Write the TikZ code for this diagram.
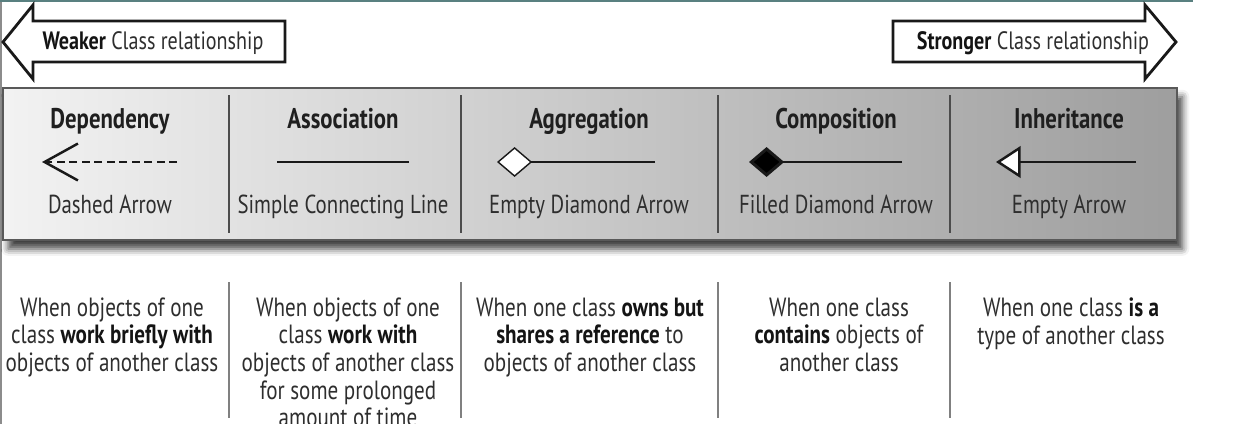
\documentclass[tikz,border=0pt]{standalone}
\usepackage{fontspec}
\setmainfont[FakeStretch=0.8]{PT Sans}
\usepackage{tikz}
\usetikzlibrary{positioning, calc, arrows.meta, shadows.blur}

\newcommand{\boldpart}[1]{\textcolor{black!92}{\textbf{#1}}}

\begin{document}
\begin{tikzpicture}[x=0.02cm, y=-0.02cm, thick]
        % Define block styles
        \tikzstyle{big_arrow} = [draw=black!90, line width=1.6pt, fill=white, line join=miter]
        \tikzstyle{arrow_text} = [anchor=base, inner sep=0pt, text=black!82, font=\fontsize{14.3}{17}\selectfont]
        \tikzstyle{kind_title} = [anchor=base, inner sep=0pt, text=black!88, font=\fontsize{16.2}{19}\selectfont\bfseries]
        \tikzstyle{kind_caption} = [anchor=base, inner sep=0pt, text=black!82, font=\fontsize{14.8}{17}\selectfont]
        \tikzstyle{usage} = [anchor=north, inner sep=0pt, align=center, text=black!82, font=\fontsize{15}{15.7}\selectfont]
        \tikzstyle{sample} = [draw=black!90, line width=1.7pt]

        % Frame of the screenshot
        \useasboundingbox (0,0) rectangle (1238,440);
        \clip (0,0) rectangle (1238,423);
        \draw[black!45, line width=1pt] (1,0) -- (1,440);
        \draw[gray!70!teal, line width=1.2pt] (0,1) -- (1193,1);

        % Weaker and stronger arrows
        \draw[big_arrow] (3,42) -- (33,5) -- (33,21) -- (285,21) -- (285,62) -- (33,62) -- (33,79) -- cycle;
        \draw[big_arrow] (893,21) -- (1145,21) -- (1145,5) -- (1176,42) -- (1145,79) -- (1145,62) -- (893,62) -- cycle;
        \node[arrow_text] (weaker) at (153,49) {\boldpart{Weaker} Class relationship};
        \node[arrow_text] (stronger) at (1033,49) {\boldpart{Stronger} Class relationship};

        % Panel with the five kinds
        \draw[draw=black!65, line width=1pt, left color=black!5, right color=black!38,
              blur shadow={shadow xshift=3pt, shadow yshift=-5pt, shadow blur radius=4pt, shadow opacity=75}]
              (3,88) rectangle (1177,240);
        \foreach \x in {229, 461, 718, 950} {
            \draw[black!70, line width=1.1pt] (\x,95) -- (\x,233);
            \draw[black!50, line width=1.6pt] (\x,282) -- (\x,418);
        }

        % Place nodes
        \node[kind_title] (dependency) at (110,128) {Dependency};
        \node[kind_title] (association) at (343,128) {Association};
        \node[kind_title] (aggregation) at (589,128) {Aggregation};
        \node[kind_title] (composition) at (836,128) {Composition};
        \node[kind_title] (inheritance) at (1069,128) {Inheritance};

        \node[kind_caption] (dependency_caption) at (110,213) {Dashed Arrow};
        \node[kind_caption] (association_caption) at (343,213) {Simple Connecting Line};
        \node[kind_caption] (aggregation_caption) at (589,213) {Empty Diamond Arrow};
        \node[kind_caption] (composition_caption) at (836,213) {Filled Diamond Arrow};
        \node[kind_caption] (inheritance_caption) at (1069,213) {Empty Arrow};

        \coordinate (dependency_start) at (177,162);
        \coordinate (dependency_end) at (42,162);
        \coordinate (association_start) at (409,162);
        \coordinate (association_end) at (277,162);
        \coordinate (aggregation_start) at (655,162);
        \coordinate (aggregation_end) at (497,162);
        \coordinate (composition_start) at (902,162);
        \coordinate (composition_end) at (749,162);
        \coordinate (inheritance_start) at (1136,162);
        \coordinate (inheritance_end) at (996,162);

        % Draw connections as arrows
        \draw [sample, line width=1.4pt, dash pattern=on 4.5pt off 2.6pt, -{Straight Barb[length=19pt, width=21pt, line width=1.4pt]}] (dependency_start) -- (dependency_end);
        \draw [sample] (association_start) -- (association_end);
        \draw [sample, -{Diamond[length=20pt, width=17pt, fill=white, line width=0.8pt]}] (aggregation_start) -- (aggregation_end);
        \draw [sample, -{Diamond[length=20pt, width=17pt, fill=black]}] (composition_start) -- (composition_end);
        \draw [sample, -{Triangle[length=14pt, width=18pt, fill=white, line width=1.4pt]}] (inheritance_start) -- (inheritance_end);

        % Add text below the panel
        \node[usage] (dependency_usage) at (112,297) {When objects of one\\class \boldpart{work briefly with}\\objects of another class};
        \node[usage] (association_usage) at (348,297) {When objects of one\\class \boldpart{work with}\\objects of another class\\for some prolonged\\amount of time};
        \node[usage] (aggregation_usage) at (590,297) {When one class \boldpart{owns but}\\\boldpart{shares a reference} to\\objects of another class};
        \node[usage] (composition_usage) at (839,297) {When one class\\\boldpart{contains} objects of\\another class};
        \node[usage] (inheritance_usage) at (1071,297) {When one class \boldpart{is a}\\type of another class};
    \end{tikzpicture}
\end{document}
